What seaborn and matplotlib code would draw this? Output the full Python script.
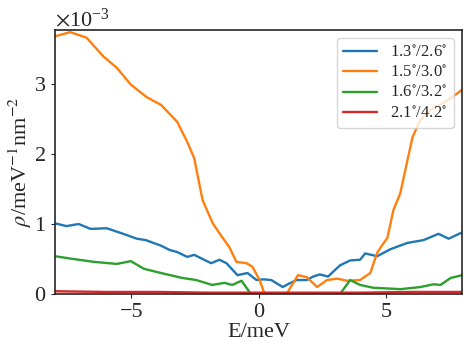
import numpy as np
import pandas as pd
import seaborn as sns
import matplotlib
matplotlib.use("Agg")
import matplotlib.pyplot as plt
from matplotlib.ticker import ScalarFormatter

# values (rho in units of 1e-3)
labels = [r"1.3$^{\circ}$/2.6$^{\circ}$", r"1.5$^{\circ}$/3.0$^{\circ}$",
          r"1.6$^{\circ}$/3.2$^{\circ}$", r"2.1$^{\circ}$/4.2$^{\circ}$"]

e_13 = [-8.0, -7.55, -7.07, -6.6, -5.97, -5.4, -4.78, -4.43, -3.83, -3.5, -3.2, -2.8, -2.53,
        -2.2, -1.86, -1.54, -1.26, -0.83, -0.43, -0.08, 0.2, 0.5, 0.95, 1.2, 1.5, 1.9, 2.15,
        2.41, 2.73, 3.2, 3.6, 3.99, 4.19, 4.66, 5.18, 5.85, 6.48, 7.07, 7.47, 8.0]
rho_13 = [1.01, 0.97, 1.0, 0.93, 0.94, 0.87, 0.79, 0.77, 0.69, 0.63, 0.6, 0.53, 0.56,
          0.5, 0.44, 0.49, 0.44, 0.27, 0.3, 0.2, 0.21, 0.2, 0.1, 0.15, 0.2, 0.2, 0.25,
          0.28, 0.25, 0.41, 0.48, 0.49, 0.58, 0.54, 0.64, 0.73, 0.77, 0.86, 0.79, 0.88]

e_15 = [-8.0, -7.4, -6.76, -6.09, -5.57, -5.02, -4.39, -3.83, -3.2, -2.8, -2.53, -2.2,
        -1.8, -1.54, -1.15, -0.87, -0.47, -0.24, 0.04, 0.24, 0.5, 0.8, 1.1, 1.55, 1.9,
        2.3, 2.69, 3.08, 3.48, 3.99, 4.39, 4.66, 4.86, 5.06, 5.3, 5.57, 5.85, 6.05, 6.36,
        6.76, 7.27, 7.83, 8.0]
rho_15 = [3.68, 3.74, 3.66, 3.39, 3.23, 2.99, 2.81, 2.7, 2.46, 2.17, 1.94, 1.34,
          1.01, 0.87, 0.67, 0.46, 0.44, 0.39, 0.2, 0.0, -0.2, -0.2, 0.0, 0.27, 0.24,
          0.1, 0.2, 0.22, 0.19, 0.2, 0.3, 0.59, 0.7, 0.8, 1.2, 1.44, 1.91, 2.24, 2.49,
          2.63, 2.73, 2.87, 2.92]

e_16 = [-8.0, -7.27, -6.48, -5.57, -5.02, -4.5, -3.83, -3.0, -2.45, -1.82, -1.34, -1.03,
        -0.67, -0.36, 0.0, 1.0, 2.0, 2.8, 3.2, 3.6, 3.99, 4.5, 5.57, 6.36, 6.88, 7.15,
        7.55, 8.0]
rho_16 = [0.54, 0.5, 0.46, 0.43, 0.47, 0.36, 0.3, 0.23, 0.2, 0.13, 0.16, 0.13,
          0.19, 0.03, -0.2, -0.4, -0.4, -0.2, 0.0, 0.2, 0.13, 0.09, 0.07, 0.1, 0.14, 0.13,
          0.23, 0.27]

e_21 = [-8.0, -6.0, -4.0, -2.0, 0.0, 2.0, 4.0, 6.0, 8.0]
rho_21 = [0.04, 0.03, 0.03, 0.02, 0.02, 0.02, 0.02, 0.03, 0.03]

frames = []
for lab, e, r in zip(labels, [e_13, e_15, e_16, e_21], [rho_13, rho_15, rho_16, rho_21]):
    frames.append(pd.DataFrame({"E": e, "rho": np.array(r) * 1e-3, "twist": lab}))
df = pd.concat(frames, ignore_index=True)

sns.set_style("ticks")
plt.rcParams["font.family"] = ["Liberation Serif", "DejaVu Serif"]
plt.rcParams["mathtext.fontset"] = "stix"

fig = plt.figure(figsize=(4.74, 3.53), dpi=100)
ax = fig.add_axes([0.116, 0.167, 0.859, 0.748])

sns.lineplot(df, x="E", y="rho", hue="twist", hue_order=labels,
             palette=sns.color_palette("tab10", 4), linewidth=1.7, ax=ax)

ax.set_xlim(-8, 8)
ax.set_ylim(0, 3.77e-3)
ax.set_xticks([-5, 0, 5])
ax.set_yticks([0, 1e-3, 2e-3, 3e-3])
fmt = ScalarFormatter(useMathText=True)
fmt.set_powerlimits((0, 0))
ax.yaxis.set_major_formatter(fmt)
ax.yaxis.get_offset_text().set_fontsize(16)
ax.tick_params(labelsize=16, length=3, width=0.8)
for s in ax.spines.values():
    s.set_linewidth(1.2)
ax.set_xlabel("E/meV", fontsize=16, labelpad=1)
ax.set_ylabel(r"$\rho$/meV$^{-1}$nm$^{-2}$", fontsize=16, labelpad=0)

leg = ax.legend(loc="upper right", fontsize=12, handlelength=2.0,
                labelspacing=0.25)
leg.get_frame().set_alpha(0.8)

fig.savefig("out.png", dpi=100)
